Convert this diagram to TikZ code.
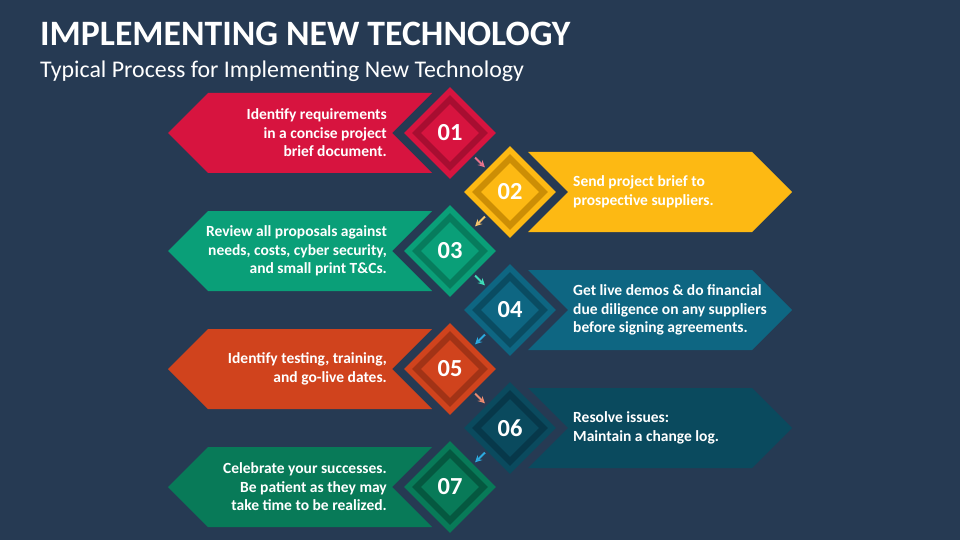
\documentclass[tikz,border=0pt]{standalone}
\usepackage{fontspec}
\setmainfont{Carlito}
\usepackage{tikz}
\usetikzlibrary{shapes.geometric}
\usepackage{xcolor}

\definecolor{bg}{HTML}{263A53}
\definecolor{col1}{HTML}{D7143F}
\definecolor{dk1}{HTML}{A80E31}
\definecolor{col2}{HTML}{FDB913}
\definecolor{dk2}{HTML}{CC8E05}
\definecolor{col3}{HTML}{0A9F78}
\definecolor{dk3}{HTML}{077C5D}
\definecolor{col4}{HTML}{0E6682}
\definecolor{dk4}{HTML}{0A4C62}
\definecolor{col5}{HTML}{D0431D}
\definecolor{dk5}{HTML}{A23316}
\definecolor{col6}{HTML}{0A4A5E}
\definecolor{dk6}{HTML}{07384A}
\definecolor{col7}{HTML}{087A58}
\definecolor{dk7}{HTML}{055840}
\definecolor{arr1}{HTML}{E8738C}
\definecolor{arr2}{HTML}{F4C36E}
\definecolor{arr3}{HTML}{3EDDB8}
\definecolor{arr4}{HTML}{2CA9DE}
\definecolor{arr5}{HTML}{EA8A70}
\definecolor{arr6}{HTML}{2CA9DE}

\begin{document}
\begin{tikzpicture}[
            x=1pt, y=-1pt,
            every node/.style={inner sep=0pt},
            outer/.style={diamond, minimum size=92pt},
            band/.style={diamond, minimum size=76pt},
            core/.style={diamond, minimum size=58pt, text=white, font=\bfseries\fontsize{24.5}{24.5}\selectfont},
            lefttext/.style={anchor=east, align=right, text=white, font=\bfseries\fontsize{15.5}{18.5}\selectfont},
            righttext/.style={anchor=west, align=left, text=white, font=\bfseries\fontsize{15.5}{18.5}\selectfont},
            link/.style={line width=2pt, shorten >=2.5pt, shorten <=2.5pt},
            >=stealth
        ]
            \useasboundingbox (0,0) rectangle (960,540);
            \fill[bg] (0,0) rectangle (960,540);
            \node[anchor=base west, text=white, font=\bfseries\fontsize{35.7}{40}\selectfont] (title) at (40,46) {IMPLEMENTING NEW TECHNOLOGY};
            \node[anchor=base west, text=white, font=\fontsize{23.9}{26}\selectfont] (subtitle) at (40,78) {Typical Process for Implementing New Technology};
            % banners
            \fill[col1] (168,133) -- ++(40,-40) -- ++(224,0) -- ++(-40,40) -- ++(40,40) -- ++(-224,0) -- cycle;
            \fill[col2] (528,152) -- ++(224,0) -- ++(40,40) -- ++(-40,40) -- ++(-224,0) -- ++(40,-40) -- cycle;
            \fill[col3] (168,251) -- ++(40,-40) -- ++(224,0) -- ++(-40,40) -- ++(40,40) -- ++(-224,0) -- cycle;
            \fill[col4] (528,270) -- ++(224,0) -- ++(40,40) -- ++(-40,40) -- ++(-224,0) -- ++(40,-40) -- cycle;
            \fill[col5] (168,369) -- ++(40,-40) -- ++(224,0) -- ++(-40,40) -- ++(40,40) -- ++(-224,0) -- cycle;
            \fill[col6] (528,388) -- ++(224,0) -- ++(40,40) -- ++(-40,40) -- ++(-224,0) -- ++(40,-40) -- cycle;
            \fill[col7] (168,487) -- ++(40,-40) -- ++(224,0) -- ++(-40,40) -- ++(40,40) -- ++(-224,0) -- cycle;
            % diamonds
            \node[outer, fill=col1] (d1) at (450,133) {};
            \node[band, fill=dk1] (b1) at (d1) {};
            \node[core, fill=col1] (n1) at (d1) {01};
            \node[outer, fill=col2] (d2) at (510,192) {};
            \node[band, fill=dk2] (b2) at (d2) {};
            \node[core, fill=col2] (n2) at (d2) {02};
            \node[outer, fill=col3] (d3) at (450,251) {};
            \node[band, fill=dk3] (b3) at (d3) {};
            \node[core, fill=col3] (n3) at (d3) {03};
            \node[outer, fill=col4] (d4) at (510,310) {};
            \node[band, fill=dk4] (b4) at (d4) {};
            \node[core, fill=col4] (n4) at (d4) {04};
            \node[outer, fill=col5] (d5) at (450,369) {};
            \node[band, fill=dk5] (b5) at (d5) {};
            \node[core, fill=col5] (n5) at (d5) {05};
            \node[outer, fill=col6] (d6) at (510,428) {};
            \node[band, fill=dk6] (b6) at (d6) {};
            \node[core, fill=col6] (n6) at (d6) {06};
            \node[outer, fill=col7] (d7) at (450,487) {};
            \node[band, fill=dk7] (b7) at (d7) {};
            \node[core, fill=col7] (n7) at (d7) {07};
            % texts
            \node[lefttext] (t1) at (387,133) {Identify requirements\\in a concise project\\brief document.};
            \node[righttext] (t2) at (573,192) {Send project brief to\\prospective suppliers.};
            \node[lefttext] (t3) at (387,251) {Review all proposals against\\needs, costs, cyber security,\\and small print T\&Cs.};
            \node[righttext] (t4) at (573,310) {Get live demos \& do financial\\due diligence on any suppliers\\before signing agreements.};
            \node[lefttext] (t5) at (387,369) {Identify testing, training,\\and go-live dates.};
            \node[righttext] (t6) at (573,428) {Resolve issues:\\Maintain a change log.};
            \node[lefttext] (t7) at (387,487) {Celebrate your successes.\\Be patient as they may\\take time to be realized.};
            \path[->, link]
            (d1) edge[draw=arr1] (d2)
            (d2) edge[draw=arr2] (d3)
            (d3) edge[draw=arr3] (d4)
            (d4) edge[draw=arr4] (d5)
            (d5) edge[draw=arr5] (d6)
            (d6) edge[draw=arr6] (d7)
            ;
        \end{tikzpicture}
\end{document}
